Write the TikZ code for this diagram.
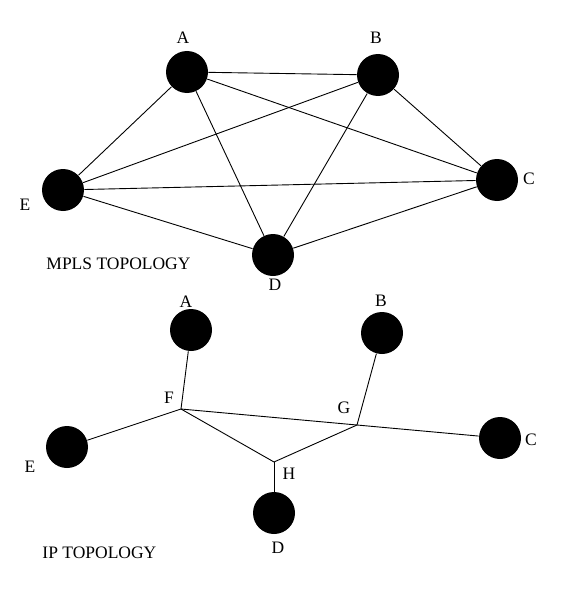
\documentclass[tikz,border=0pt]{standalone}
\usepackage{fontspec}
\setmainfont{Liberation Serif}
\usetikzlibrary{graphs}

\begin{document}
\begin{tikzpicture}[
                x=1pt, y=-1pt,
                router/.style={
                    circle,
                    fill=black,
                    minimum size=42pt,
                    inner sep=0pt,
                },
                tag/.style={
                    font=\fontsize{17.5}{20}\selectfont,
                    inner sep=0pt,
                },
                line width=0.9pt,
            ]
            \useasboundingbox (0,0) rectangle (562,594);

            % mpls
            \node [router] (mA) at (187,72) {} ;
            \node [router] (mB) at (378,75) {} ;
            \node [router] (mC) at (497,180) {} ;
            \node [router] (mD) at (273,255) {} ;
            \node [router] (mE) at (63,190) {} ;
            \node [tag] (lmA) at (183,38) {A} ;
            \node [tag] (lmB) at (376,38) {B} ;
            \node [tag] (lmC) at (529,179) {C} ;
            \node [tag] (lmD) at (275,285) {D} ;
            \node [tag] (lmE) at (25,205) {E} ;
            \node [tag, anchor=west] (mpls) at (46,264) {MPLS TOPOLOGY} ;

            \graph [ use existing nodes, ] {
                mA -- { mB, mC, mD, mE } ;
                mB -- { mC, mD, mE } ;
                mC -- { mD, mE } ;
                mD -- mE ;
            } ;

            % ip
            \node [router] (iA) at (191,330) {} ;
            \node [router] (iB) at (382,333) {} ;
            \node [router] (iC) at (500,438) {} ;
            \node [router] (iD) at (274,513) {} ;
            \node [router] (iE) at (67,447) {} ;
            \coordinate (iF) at (181,409) ;
            \coordinate (iG) at (357,425) ;
            \coordinate (iH) at (274,462) ;
            \node [tag] (liA) at (186,302) {A} ;
            \node [tag] (liB) at (381,301) {B} ;
            \node [tag] (liC) at (531,440) {C} ;
            \node [tag] (liD) at (278,548) {D} ;
            \node [tag] (liE) at (30,467) {E} ;
            \node [tag] (liF) at (169,398) {F} ;
            \node [tag] (liG) at (344,408) {G} ;
            \node [tag] (liH) at (289,474) {H} ;
            \node [tag, anchor=west] (ip) at (42,553) {IP TOPOLOGY} ;

            \graph [ use existing nodes, ] {
                iA -- iF -- iG -- iC ;
                iE -- iF -- iH -- iG -- iB ;
                iH -- iD ;
            } ;
        \end{tikzpicture}
\end{document}
